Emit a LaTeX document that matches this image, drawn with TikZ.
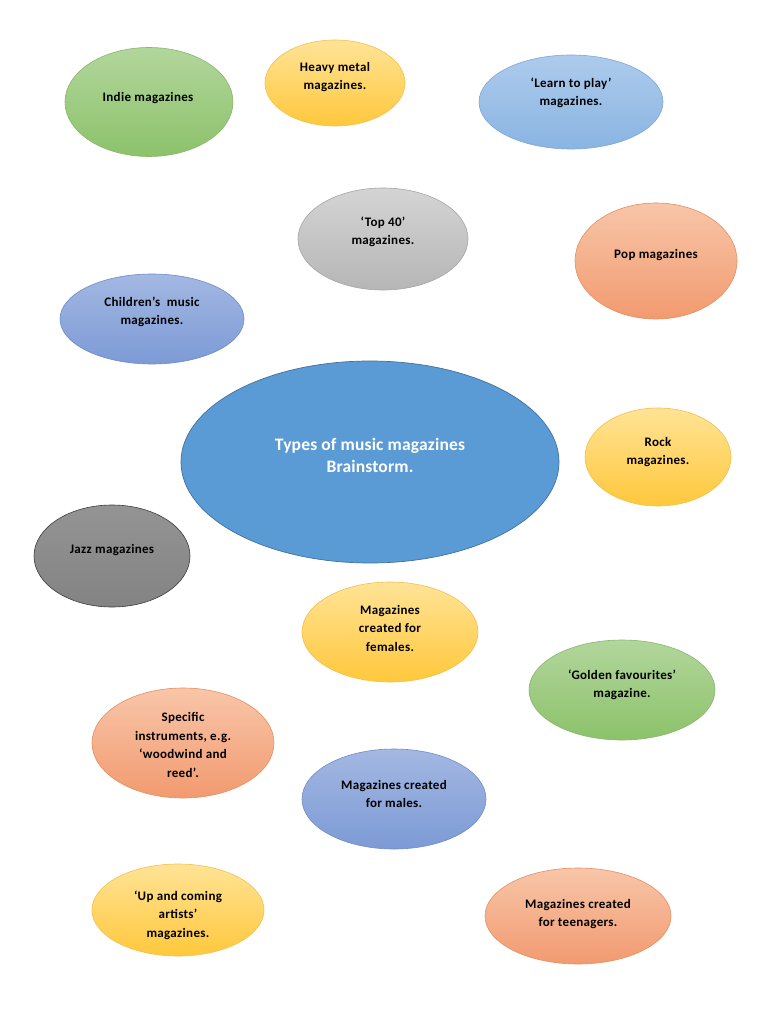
\documentclass[tikz,border=0pt]{standalone}
\usepackage{fontspec}
\setmainfont{Carlito}
\usetikzlibrary{shapes.geometric}
\definecolor{gT}{HTML}{B2D69C}\definecolor{gB}{HTML}{8CC26A}\definecolor{gD}{HTML}{8AB56C}
\definecolor{yT}{HTML}{FFE396}\definecolor{yB}{HTML}{FFC83C}\definecolor{yD}{HTML}{F2C14A}
\definecolor{bT}{HTML}{ADCBEC}\definecolor{bB}{HTML}{8AB4E2}\definecolor{bD}{HTML}{7FA6D4}
\definecolor{sT}{HTML}{D4D4D4}\definecolor{sB}{HTML}{B6B6B6}\definecolor{sD}{HTML}{A5A5A5}
\definecolor{oT}{HTML}{F8C6A8}\definecolor{oB}{HTML}{F29A70}\definecolor{oD}{HTML}{E58F62}
\definecolor{pT}{HTML}{A3B8E2}\definecolor{pB}{HTML}{7D9AD6}\definecolor{pD}{HTML}{6F8CC9}
\definecolor{kT}{HTML}{949494}\definecolor{kB}{HTML}{838383}\definecolor{kD}{HTML}{3C3C3C}
\definecolor{mainC}{HTML}{5B9BD5}\definecolor{mainD}{HTML}{41719C}
\tikzset{
  blob/.style n args={3}{ellipse, inner sep=0pt, top color=#1, bottom color=#2, draw=#3, line width=0.6pt},
  lbl/.style={font=\fontsize{13}{18.5}\selectfont\bfseries\addfontfeature{LetterSpace=2.5}, align=center, text=black, inner sep=0pt},
}
\newcommand{\bub}[8]{% name, x, y, rx, ry, top, bottom, border
  \node[blob={#6}{#7}{#8}, minimum width=#4*2pt, minimum height=#5*2pt] (#1) at (#2,#3) {};}
\begin{document}
\begin{tikzpicture}[x=1pt,y=-1pt]
\useasboundingbox[fill=white] (0,0) rectangle (768,1024);
\bub{indie}{149}{102}{84}{54.5}{gT}{gB}{gD}
\bub{heavy}{335}{83}{70}{43}{yT}{yB}{yD}
\bub{learn}{571}{102}{92}{47}{bT}{bB}{bD}
\bub{top}{383}{239}{85}{51}{sT}{sB}{sD}
\bub{pop}{656}{261}{81}{58}{oT}{oB}{oD}
\bub{child}{152}{319}{92}{45}{pT}{pB}{pD}
\node[ellipse, inner sep=0pt, fill=mainC, draw=mainD, line width=0.7pt, minimum width=378pt, minimum height=202pt] (main) at (370,462) {};
\bub{rock}{658}{457}{73}{49}{yT}{yB}{yD}
\bub{jazz}{112}{556}{78}{51}{kT}{kB}{kD}
\bub{fem}{390}{632}{88}{50}{yT}{yB}{yD}
\bub{gold}{622}{690}{93}{50}{gT}{gB}{gD}
\bub{spec}{183}{743}{91}{55}{oT}{oB}{oD}
\bub{male}{394}{799}{92}{50}{pT}{pB}{pD}
\bub{up}{178}{910}{86}{46}{yT}{yB}{yD}
\bub{teen}{578}{916}{93}{48}{oT}{oB}{oD}

\node[lbl] (tindie) at (148,98) {Indie magazines};
\node[lbl] (theavy) at (335,77) {Heavy metal\\magazines.};
\node[lbl] (tlearn) at (571,93) {‘Learn to play’\\magazines.};
\node[lbl] (ttop) at (383,232) {‘Top 40’\\magazines.};
\node[lbl] (tpop) at (656,255) {Pop magazines};
\node[lbl] (tchild) at (152,312) {Children’s~~music\\magazines.};
\node[lbl, text=white, font=\fontsize{17.5}{22}\selectfont\bfseries\addfontfeature{LetterSpace=1}] (tmain) at (370,455) {Types of music magazines\\Brainstorm.};
\node[lbl] (trock) at (658,452) {Rock\\magazines.};
\node[lbl] (tjazz) at (112,550) {Jazz magazines};
\node[lbl] (tfem) at (390,628) {Magazines\\created for\\females.};
\node[lbl] (tgold) at (622,685) {‘Golden favourites’\\magazine.};
\node[lbl] (tspec) at (183,745) {Specific\\instruments, e.g.\\‘woodwind and\\reed’.};
\node[lbl] (tmale) at (394,794) {Magazines created\\for males.};
\node[lbl] (tup) at (178,915) {‘Up and coming\\artists’\\magazines.};
\node[lbl] (tteen) at (578,914) {Magazines created\\for teenagers.};
\end{tikzpicture}
\end{document}
